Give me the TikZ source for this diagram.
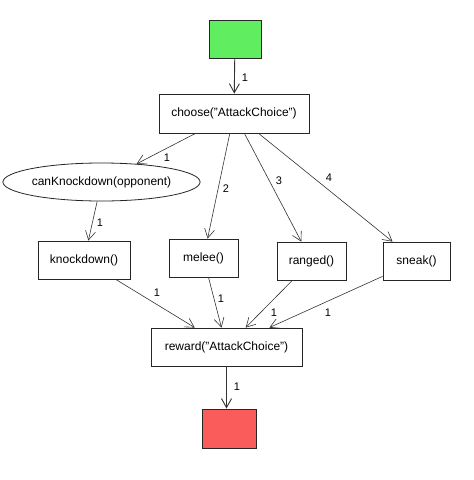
\documentclass[tikz,border=0pt]{standalone}
\usepackage{fontspec}
\setmainfont{Liberation Sans}
\usetikzlibrary{arrows.meta,shapes.geometric}
\definecolor{startgreen}{RGB}{96,238,96}
\definecolor{endred}{RGB}{250,92,92}
\begin{document}
\begin{tikzpicture}[x=1pt,y=-1pt,
  box/.style={draw=black!85,line width=0.8pt,fill=white,inner sep=0pt,minimum height=38pt,font=\fontsize{12}{14}\selectfont},
  cond/.style={box,ellipse},
  term/.style={draw=black!85,line width=1pt,inner sep=0pt,minimum height=38pt},
  link/.style={draw=black!80,line width=0.6pt,-{Straight Barb[length=9pt,width=10pt]}},
  lbl/.style={font=\fontsize{11}{13}\selectfont,inner sep=0pt}]
\useasboundingbox (0,0) rectangle (474,480);
\node[term,fill=startgreen,minimum width=52pt] (start) at (235,39) {};
\node[box,minimum width=150pt,minimum height=39pt] (choose) at (234,113.5) {choose("AttackChoice")};
\node[cond,minimum width=171pt] (can) at (101.5,182) {canKnockdown(opponent)};
\node[box,minimum width=92pt] (knock) at (84,260) {knockdown()};
\node[box,minimum width=69pt] (melee) at (203.5,258) {melee()};
\node[box,minimum width=69pt] (ranged) at (311.5,261) {ranged()};
\node[box,minimum width=67pt] (sneak) at (416.5,261) {sneak()};
\node[box,minimum width=151pt] (reward) at (226.5,347) {reward("AttackChoice")};
\node[term,fill=endred,minimum width=54pt,minimum height=39pt] (end) at (229,428.5) {};

\draw[link,line width=0.9pt] (start) -- (choose);
\draw[link] (choose) -- (can);
\draw[link] (choose) -- (melee);
\draw[link] (choose) -- (ranged);
\draw[link] (choose) -- (sneak);
\draw[link] (can) -- (knock);
\draw[link] (knock) -- (reward);
\draw[link] (melee) -- (reward);
\draw[link] (ranged) -- (reward);
\draw[link] (sneak) -- (reward);
\draw[link,line width=0.9pt] (reward) -- (reward |- end.north);

\node[lbl] (l0) at (245,78) {1};
\node[lbl] (l1) at (167,158) {1};
\node[lbl] (l2) at (226,189) {2};
\node[lbl] (l3) at (279,181) {3};
\node[lbl] (l4) at (329,178) {4};
\node[lbl] (l5) at (100,223) {1};
\node[lbl] (l6) at (157,293) {1};
\node[lbl] (l7) at (221,299) {1};
\node[lbl] (l8) at (274,313) {1};
\node[lbl] (l9) at (328,313) {1};
\node[lbl] (l10) at (237,387) {1};
\end{tikzpicture}
\end{document}
